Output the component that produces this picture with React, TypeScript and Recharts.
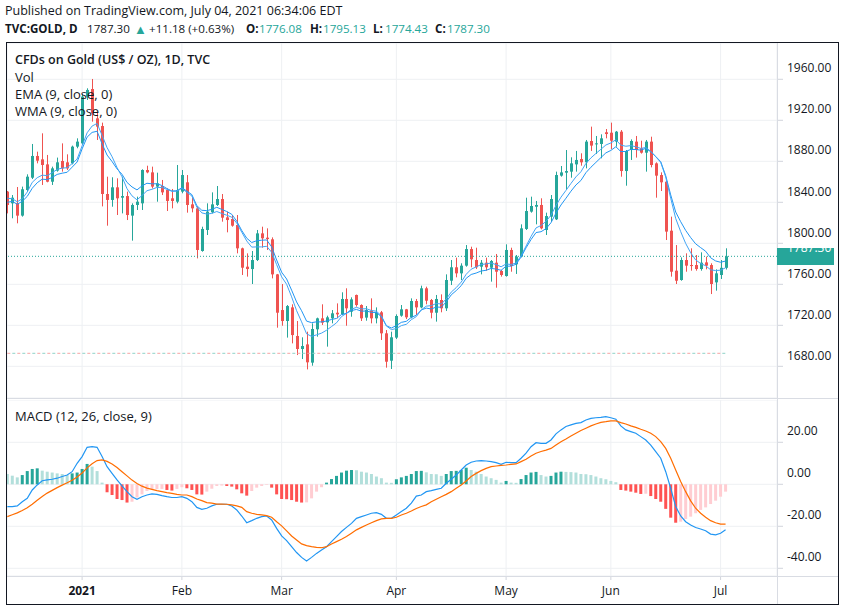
import React from 'react';
import { ComposedChart, Bar, Line, XAxis, YAxis, CartesianGrid, ReferenceLine, Cell } from 'recharts';

const FONT = '"Open Sans", "Noto Sans", sans-serif';
const UP = '#26a69a';
const DOWN = '#ef5350';
const TEXT = '#131722';
const GRID = '#eef0f3';
const SEP = '#d9dce3';

// ---- daily candles, Dec 2020 .. Jul 2 2021 (index 15 = Jan 4) ----
const open = [
  1850.4, 1839.0, 1839.0, 1827.0, 1852.0, 1864.0, 1885.2, 1881.9, 1877.0, 1860.1,
  1870.9, 1880.3, 1879.0, 1878.0, 1894.3, 1897.5, 1943.1, 1950.5, 1921.9, 1914.4,
  1848.1, 1842.3, 1854.6, 1844.5, 1846.1, 1827.0, 1837.4, 1839.0, 1871.5, 1869.2,
  1855.3, 1855.9, 1852.0, 1843.9, 1840.6, 1850.4, 1859.5, 1838.0, 1834.1, 1792.5,
  1813.0, 1830.2, 1837.4, 1843.2, 1825.3, 1823.7, 1817.9, 1795.1, 1777.2, 1774.9,
  1783.7, 1809.7, 1805.5, 1803.9, 1769.7, 1734.9, 1724.2, 1737.5, 1709.6, 1696.9,
  1701.4, 1683.6, 1716.1, 1726.8, 1722.9, 1726.8, 1732.3, 1730.7, 1745.7, 1733.3,
  1749.6, 1739.8, 1727.5, 1734.3, 1726.8, 1732.7, 1712.2, 1685.5, 1708.0, 1729.4,
  1735.6, 1727.8, 1743.7, 1737.5, 1756.1, 1744.7, 1732.3, 1744.7, 1736.6, 1763.5,
  1776.6, 1770.7, 1778.2, 1794.4, 1783.7, 1777.2, 1781.1, 1776.2, 1781.1, 1773.0,
  1768.1, 1793.5, 1779.5, 1787.0, 1814.0, 1830.9, 1835.7, 1837.4, 1813.0, 1826.0,
  1823.4, 1866.0, 1868.9, 1869.9, 1877.0, 1882.2, 1879.0, 1899.8, 1896.6, 1896.9,
  1908.3, 1907.9, 1899.2, 1908.9, 1870.5, 1891.0, 1899.2, 1892.7, 1888.4, 1899.2,
  1878.0, 1866.6, 1860.1, 1812.3, 1773.3, 1764.2, 1783.7, 1778.8, 1778.8, 1774.9,
  1781.4, 1778.8, 1761.9, 1769.1, 1776.08,
];
const high = [
  1851.0, 1847.1, 1854.9, 1855.3, 1867.3, 1896.9, 1889.4, 1907.3, 1886.2, 1874.8,
  1883.6, 1897.5, 1886.8, 1895.3, 1902.4, 1945.3, 1951.2, 1960.3, 1928.4, 1917.7,
  1865.0, 1864.4, 1863.4, 1865.0, 1850.4, 1839.0, 1845.5, 1872.2, 1875.7, 1874.8,
  1868.9, 1861.8, 1853.6, 1853.0, 1876.4, 1871.5, 1866.6, 1845.5, 1835.7, 1816.2,
  1839.0, 1849.7, 1855.9, 1848.1, 1830.9, 1827.6, 1827.6, 1795.8, 1790.2, 1792.5,
  1813.0, 1816.2, 1814.6, 1805.8, 1770.1, 1760.3, 1739.8, 1740.5, 1724.2, 1708.3,
  1713.8, 1721.9, 1727.5, 1740.5, 1729.4, 1734.9, 1741.4, 1752.2, 1756.1, 1747.3,
  1750.0, 1740.5, 1738.8, 1746.3, 1737.5, 1734.0, 1715.4, 1713.8, 1730.7, 1739.8,
  1736.0, 1746.3, 1745.7, 1758.7, 1757.7, 1745.7, 1749.6, 1750.2, 1769.7, 1783.7,
  1786.0, 1780.5, 1798.3, 1796.7, 1795.7, 1783.7, 1786.0, 1783.7, 1789.6, 1774.0,
  1799.0, 1795.7, 1788.6, 1818.5, 1844.5, 1845.5, 1841.3, 1843.9, 1829.9, 1847.1,
  1869.9, 1875.4, 1891.0, 1883.9, 1890.1, 1887.8, 1900.8, 1913.8, 1904.7, 1906.3,
  1911.5, 1917.7, 1909.6, 1910.5, 1891.0, 1901.4, 1904.7, 1900.1, 1900.8, 1904.0,
  1879.0, 1869.2, 1860.8, 1826.0, 1798.3, 1786.3, 1790.2, 1795.1, 1788.6, 1791.2,
  1787.0, 1780.5, 1774.6, 1783.7, 1795.13,
];
const low = [
  1829.2, 1824.4, 1819.5, 1826.0, 1850.4, 1862.7, 1878.0, 1856.9, 1859.5, 1856.9,
  1869.9, 1869.9, 1871.5, 1877.0, 1892.7, 1895.9, 1939.8, 1918.7, 1900.8, 1836.0,
  1817.2, 1835.7, 1827.6, 1829.2, 1822.7, 1802.6, 1832.5, 1832.5, 1868.3, 1853.6,
  1840.6, 1847.1, 1831.5, 1834.1, 1839.0, 1848.8, 1829.9, 1830.2, 1785.3, 1791.8,
  1808.1, 1829.2, 1836.4, 1821.1, 1810.7, 1816.2, 1790.2, 1769.1, 1767.5, 1760.3,
  1782.7, 1795.7, 1793.5, 1765.8, 1717.7, 1719.6, 1708.0, 1702.4, 1691.0, 1687.1,
  1677.0, 1680.6, 1708.9, 1720.3, 1699.2, 1721.9, 1726.8, 1730.1, 1719.6, 1728.4,
  1738.2, 1724.2, 1724.5, 1721.9, 1721.9, 1705.7, 1678.7, 1677.4, 1706.6, 1728.4,
  1726.1, 1726.8, 1730.1, 1736.6, 1740.5, 1726.8, 1723.6, 1732.7, 1734.0, 1759.3,
  1766.8, 1764.2, 1777.2, 1776.6, 1774.9, 1769.7, 1773.3, 1762.6, 1756.7, 1767.5,
  1767.5, 1772.3, 1770.1, 1786.3, 1813.0, 1829.9, 1818.5, 1813.6, 1808.1, 1821.1,
  1822.7, 1865.0, 1852.0, 1864.0, 1869.9, 1875.7, 1873.1, 1890.1, 1887.1, 1882.9,
  1902.4, 1892.0, 1894.3, 1865.0, 1856.2, 1881.3, 1883.6, 1887.5, 1869.9, 1874.1,
  1844.5, 1851.0, 1803.2, 1767.5, 1760.3, 1763.5, 1772.3, 1773.3, 1773.3, 1773.3,
  1774.6, 1750.5, 1753.8, 1765.2, 1774.43,
];
const close = [
  1837.4, 1844.5, 1827.0, 1852.7, 1865.0, 1885.2, 1880.6, 1876.4, 1860.1, 1873.1,
  1879.0, 1873.1, 1873.1, 1894.3, 1899.2, 1943.1, 1949.6, 1926.8, 1913.8, 1848.1,
  1842.3, 1854.6, 1843.9, 1846.1, 1827.6, 1837.4, 1840.6, 1871.5, 1869.2, 1855.3,
  1858.5, 1849.7, 1841.3, 1841.3, 1852.0, 1866.6, 1837.4, 1834.1, 1793.5, 1814.0,
  1830.9, 1838.0, 1843.2, 1825.0, 1822.7, 1817.2, 1795.1, 1776.2, 1774.9, 1783.7,
  1809.7, 1804.9, 1804.2, 1769.7, 1732.3, 1724.2, 1738.8, 1710.5, 1696.9, 1699.8,
  1683.9, 1716.4, 1726.8, 1722.6, 1727.8, 1731.7, 1730.7, 1745.7, 1736.6, 1745.3,
  1739.8, 1726.8, 1734.9, 1726.8, 1732.3, 1712.2, 1684.5, 1708.3, 1729.1, 1735.6,
  1727.8, 1743.7, 1737.5, 1756.1, 1744.0, 1732.3, 1745.7, 1736.6, 1764.2, 1776.6,
  1770.7, 1778.2, 1794.4, 1784.4, 1776.6, 1781.1, 1776.6, 1782.7, 1772.3, 1769.1,
  1793.5, 1777.9, 1787.0, 1814.6, 1831.5, 1836.4, 1837.4, 1814.6, 1826.6, 1843.2,
  1866.6, 1869.2, 1870.5, 1878.0, 1881.3, 1879.0, 1899.2, 1895.3, 1897.5, 1902.4,
  1906.6, 1900.1, 1908.9, 1870.5, 1890.1, 1899.8, 1891.0, 1888.4, 1899.2, 1876.4,
  1866.0, 1859.5, 1811.4, 1772.3, 1763.5, 1783.7, 1778.2, 1777.9, 1774.9, 1781.1,
  1778.2, 1760.3, 1770.7, 1776.1, 1787.3,
];
const ema9 = [
  1840.0, 1840.9, 1838.1, 1841.0, 1845.8, 1853.7, 1859.1, 1862.6, 1862.1, 1864.3,
  1867.2, 1868.4, 1869.3, 1874.3, 1879.3, 1892.1, 1903.6, 1908.2, 1909.3, 1897.1,
  1886.1, 1879.8, 1872.6, 1867.3, 1859.4, 1855.0, 1852.1, 1856.0, 1858.6, 1858.0,
  1858.1, 1856.4, 1853.4, 1851.0, 1851.2, 1854.3, 1850.9, 1847.5, 1836.7, 1832.2,
  1831.9, 1833.1, 1835.1, 1833.1, 1831.0, 1828.3, 1821.6, 1812.5, 1805.0, 1800.8,
  1802.5, 1803.0, 1803.3, 1796.5, 1783.7, 1771.8, 1765.2, 1754.3, 1742.8, 1734.2,
  1724.1, 1722.6, 1723.4, 1723.3, 1724.2, 1725.7, 1726.7, 1730.5, 1731.7, 1734.4,
  1735.5, 1733.8, 1734.0, 1732.6, 1732.5, 1728.4, 1719.6, 1717.4, 1719.7, 1722.9,
  1723.9, 1727.8, 1729.8, 1735.0, 1736.8, 1735.9, 1737.9, 1737.6, 1742.9, 1749.7,
  1753.9, 1758.7, 1765.9, 1769.6, 1771.0, 1773.0, 1773.7, 1775.5, 1774.9, 1773.7,
  1777.7, 1777.7, 1779.6, 1786.6, 1795.6, 1803.7, 1810.5, 1811.3, 1814.3, 1820.1,
  1829.4, 1837.4, 1844.0, 1850.8, 1856.9, 1861.3, 1868.9, 1874.2, 1878.9, 1883.6,
  1888.2, 1890.6, 1894.2, 1889.5, 1889.6, 1891.6, 1891.5, 1890.9, 1892.6, 1889.3,
  1884.7, 1879.6, 1866.0, 1847.2, 1830.5, 1821.1, 1812.6, 1805.6, 1799.5, 1795.8,
  1792.3, 1785.9, 1782.8, 1781.5, 1782.7,
];
const wma9 = [
  1843.9, 1843.5, 1840.5, 1843.5, 1850.0, 1859.5, 1864.0, 1866.5, 1866.0, 1868.9,
  1872.1, 1873.4, 1873.7, 1877.8, 1882.2, 1895.1, 1907.8, 1914.4, 1916.9, 1905.4,
  1893.4, 1884.5, 1873.9, 1864.9, 1853.3, 1846.3, 1842.4, 1846.6, 1851.3, 1852.7,
  1854.5, 1854.5, 1852.6, 1850.8, 1850.9, 1853.6, 1849.8, 1846.2, 1835.2, 1829.7,
  1828.5, 1829.2, 1831.0, 1829.1, 1827.4, 1825.5, 1819.7, 1810.9, 1802.3, 1796.3,
  1796.5, 1796.5, 1797.1, 1791.3, 1779.2, 1767.3, 1760.0, 1747.8, 1734.3, 1723.4,
  1711.7, 1709.2, 1710.7, 1712.4, 1715.2, 1718.8, 1722.4, 1728.5, 1731.7, 1735.8,
  1737.5, 1736.0, 1736.2, 1734.4, 1733.8, 1729.2, 1719.4, 1715.8, 1716.9, 1719.7,
  1721.0, 1725.5, 1728.5, 1735.1, 1738.7, 1739.2, 1741.3, 1740.8, 1745.7, 1752.4,
  1756.8, 1762.2, 1769.8, 1774.7, 1777.0, 1779.3, 1779.9, 1780.8, 1779.2, 1777.1,
  1779.9, 1779.3, 1780.8, 1787.8, 1797.3, 1806.7, 1815.0, 1817.4, 1821.4, 1827.4,
  1836.9, 1845.0, 1851.6, 1858.4, 1864.8, 1869.8, 1877.9, 1883.3, 1887.6, 1891.7,
  1895.9, 1897.9, 1901.0, 1895.8, 1894.7, 1895.3, 1894.2, 1892.6, 1893.4, 1889.7,
  1884.5, 1878.9, 1864.7, 1844.0, 1824.2, 1811.4, 1799.9, 1790.8, 1783.8, 1780.3,
  1778.1, 1774.2, 1773.4, 1773.8, 1776.1,
];
const macdLine = [
  -10.6, -10.6, -10.3, -8.3, -6.7, -2.7, -0.3, 1.7, 2.1, 2.4,
  2.9, 3.7, 4.4, 6.0, 10.0, 13.2, 17.6, 17.9, 17.6, 13.2,
  8.4, 5.2, 2.1, -0.8, -3.5, -5.9, -7.1, -5.9, -5.1, -4.6,
  -4.8, -5.4, -5.9, -6.3, -6.3, -5.9, -6.7, -8.3, -11.0, -11.9,
  -11.4, -10.3, -9.5, -9.5, -9.5, -10.3, -12.2, -15.1, -18.3, -17.3,
  -16.2, -15.4, -15.1, -17.0, -21.0, -24.6, -26.8, -29.7, -32.5, -34.8,
  -36.5, -34.8, -32.9, -31.3, -29.7, -27.3, -24.9, -22.5, -20.5, -18.6,
  -16.2, -15.4, -14.6, -13.8, -13.5, -14.3, -16.2, -16.2, -14.6, -13.0,
  -11.4, -9.0, -5.6, -5.1, -3.5, -3.0, -2.4, -1.9, 0.5, 2.4,
  4.4, 6.8, 9.2, 10.5, 11.1, 11.3, 11.1, 10.8, 10.3, 9.5,
  10.5, 10.3, 10.3, 12.4, 14.8, 17.9, 19.8, 19.5, 19.5, 21.1,
  24.0, 25.9, 27.5, 28.3, 29.0, 29.4, 30.6, 31.4, 31.7, 31.9,
  32.2, 31.7, 31.0, 27.8, 25.9, 25.1, 24.3, 22.7, 21.1, 18.7,
  15.6, 12.4, 6.0, -1.9, -10.6, -15.1, -17.8, -19.4, -20.6, -21.3,
  -22.1, -23.7, -24.1, -23.3, -21.7,
];
const signalLine = [
  -15.4, -14.5, -13.6, -12.5, -11.2, -9.5, -7.6, -5.8, -4.2, -2.9,
  -1.6, -0.4, 0.7, 1.9, 3.5, 5.4, 7.8, 9.8, 11.3, 11.6,
  10.9, 9.7, 8.0, 6.0, 4.0, 2.0, 0.4, -0.9, -1.8, -2.4,
  -3.0, -3.5, -4.0, -4.3, -4.8, -5.1, -5.1, -5.9, -7.0, -7.8,
  -8.7, -9.0, -9.4, -9.4, -9.5, -9.8, -10.3, -11.0, -13.0, -13.8,
  -14.3, -14.6, -14.9, -15.7, -17.8, -19.8, -22.2, -24.6, -26.5, -28.4,
  -29.2, -29.7, -30.0, -30.2, -29.7, -28.4, -27.3, -26.2, -24.9, -23.3,
  -21.7, -20.5, -19.4, -18.3, -17.3, -16.5, -16.2, -16.2, -15.7, -14.6,
  -13.8, -12.7, -11.5, -10.6, -9.8, -8.3, -7.1, -5.9, -4.8, -3.5,
  -1.9, -0.3, 1.6, 3.7, 5.2, 6.5, 7.6, 8.4, 8.7, 9.0,
  9.2, 9.5, 9.7, 10.8, 11.9, 13.5, 14.8, 15.6, 16.3, 17.1,
  18.7, 20.3, 21.6, 23.0, 24.3, 25.6, 26.7, 27.8, 28.7, 29.5,
  29.8, 30.2, 30.2, 29.4, 28.7, 27.8, 27.1, 26.2, 25.4, 24.3,
  22.7, 20.3, 17.1, 12.4, 6.8, 1.3, -3.5, -7.9, -11.4, -13.8,
  -15.7, -17.3, -18.3, -19.0, -19.0,
];
const histogram = [
  4.9, 4.1, 3.3, 4.4, 6.3, 7.3, 7.6, 6.5, 6.0, 5.6,
  5.2, 4.9, 4.4, 5.2, 5.6, 7.3, 9.7, 8.4, 6.3, 0.8,
  -3.8, -5.1, -7.0, -7.5, -8.7, -8.3, -6.3, -4.8, -3.2, -2.4,
  -2.3, -2.2, -2.7, -3.0, -2.2, -1.4, -1.9, -2.7, -4.8, -4.9,
  -3.5, -2.1, -0.8, -0.6, -0.8, -1.1, -2.4, -4.3, -5.4, -3.2,
  -1.6, -0.8, -0.3, -1.6, -4.8, -7.0, -7.1, -7.5, -8.3, -8.7,
  -8.6, -6.7, -3.5, -1.4, 0.8, 2.5, 4.0, 5.6, 6.5, 6.8,
  6.7, 6.0, 5.6, 4.9, 3.7, 2.9, 0.8, 0.7, 2.4, 3.3,
  4.0, 4.9, 6.3, 6.4, 5.7, 4.9, 4.8, 4.0, 4.9, 6.3,
  6.4, 6.8, 7.9, 6.8, 6.0, 4.9, 3.7, 2.9, 2.1, 0.8,
  1.6, 0.8, 0.7, 2.5, 4.4, 5.6, 5.9, 4.4, 3.7, 4.0,
  5.6, 6.0, 5.9, 5.8, 5.6, 4.9, 4.8, 4.4, 3.7, 2.9,
  2.4, 1.6, 1.0, -2.7, -3.0, -3.5, -4.0, -4.6, -4.5, -5.6,
  -7.0, -8.3, -11.7, -15.9, -18.3, -17.8, -16.5, -15.4, -13.8, -12.2,
  -11.0, -9.4, -7.8, -5.9, -3.5,
];

const monthTicks = [15, 35, 55, 78, 100, 121, 143];
const monthLabels = ['2021', 'Feb', 'Mar', 'Apr', 'May', 'Jun', 'Jul'];
const priceTicks = [1680, 1720, 1760, 1800, 1840, 1880, 1920, 1960];
const macdTicks = [-40, -20, 0, 20];
const lastPrice = 1787.3;
const markerLevel = 1692.7;

const data = close.map((c, i) => ({
  i,
  open: open[i],
  high: high[i],
  low: low[i],
  close: c,
  range: [low[i], high[i]],
  ema: ema9[i],
  wma: wma9[i],
  macd: macdLine[i],
  signal: signalLine[i],
  hist: histogram[i],
}));

const histColor = (i: number) => {
  const v = histogram[i];
  const p = i > 0 ? histogram[i - 1] : v;
  if (v >= 0) return i > 0 && v > p ? '#26a69a' : '#b2dfdb';
  return i > 0 && v < p ? '#ff5252' : '#ffcdd2';
};

const xDomain: [number, number] = [-0.06, 154.31];
const priceDomain: [number, number] = [1649.1, 1995.4];
const macdDomain: [number, number] = [-43.67, 40.14];

const Candle = (props: any) => {
  const { x, y, width, height, payload } = props;
  if (!payload || x == null) return null;
  const { open: o, close: c, high: h, low: l } = payload;
  const color = c >= o ? UP : DOWN;
  const span = h - l || 1;
  const py = (v: number) => y + ((h - v) / span) * height;
  const top = py(Math.max(o, c));
  const bot = py(Math.min(o, c));
  const cx = Math.round(x + width / 2);
  return (
    <g>
      <line x1={cx + 0.5} x2={cx + 0.5} y1={y} y2={y + height} stroke={color} strokeWidth={1} />
      <rect x={cx - 1} y={top} width={3} height={Math.max(1, bot - top)} fill={color} />
    </g>
  );
};

const PriceTick = (props: any) => {
  const { x, y, payload } = props;
  return (
    <text x={x + 2} y={y - 11} dy="0.35em" textAnchor="start" fontSize={12} fill={TEXT} fontFamily={FONT}>
      {Number(payload.value).toFixed(2)}
    </text>
  );
};

const TimeTick = (props: any) => {
  const { x, y, payload } = props;
  const idx = monthTicks.indexOf(payload.value);
  const label = monthLabels[idx] ?? '';
  return (
    <text x={x} y={y + 13} textAnchor="middle" fontSize={12} fill={TEXT} fontFamily={FONT} fontWeight={idx === 0 ? 700 : 400}>
      {label}
    </text>
  );
};

const txt: React.CSSProperties = { position: 'absolute', fontSize: 12, lineHeight: '16px', color: TEXT, whiteSpace: 'nowrap' };
const hdr: React.CSSProperties = { ...txt, top: 21, fontSize: 11.6 };

export default function App() {
  return (
    <div style={{ position: 'absolute', left: 0, top: 0, width: 845, height: 611, background: '#fff', fontFamily: FONT, overflow: 'hidden' }}>
      <div style={{ ...txt, left: 5, top: 3, fontSize: 12.5 }}>Published on TradingView.com, July 04, 2021 06:34:06 EDT</div>
      <div style={{ ...hdr, left: 5, fontWeight: 700 }}>TVC:GOLD, D</div>
      <div style={{ ...hdr, left: 87 }}>1787.30</div>
      <div style={{ ...hdr, left: 134, color: UP, fontSize: 13 }}>▲</div>
      <div style={{ ...hdr, left: 149 }}>+11.18 (+0.63%)</div>
      <div style={{ ...hdr, left: 246, fontWeight: 700 }}>O:</div>
      <div style={{ ...hdr, left: 259, color: UP }}>1776.08</div>
      <div style={{ ...hdr, left: 310, fontWeight: 700 }}>H:</div>
      <div style={{ ...hdr, left: 323, color: UP }}>1795.13</div>
      <div style={{ ...hdr, left: 373, fontWeight: 700 }}>L:</div>
      <div style={{ ...hdr, left: 385, color: UP }}>1774.43</div>
      <div style={{ ...hdr, left: 435, fontWeight: 700 }}>C:</div>
      <div style={{ ...hdr, left: 447, color: UP }}>1787.30</div>

      <div style={{ position: 'absolute', left: 7, top: 43 }}>
        <ComposedChart width={831} height={355} data={data} margin={{ top: 0, right: 0, bottom: 0, left: 0 }}>
          <CartesianGrid stroke={GRID} />
          <XAxis dataKey="i" type="number" domain={xDomain} allowDataOverflow ticks={monthTicks} hide />
          <YAxis
            orientation="right"
            width={61}
            domain={priceDomain}
            allowDataOverflow
            ticks={priceTicks}
            interval={0}
            tick={PriceTick}
            tickSize={6}
            tickLine={{ stroke: '#d1d4dc' }}
            axisLine={false}
          />
          <ReferenceLine segment={[{ x: 0, y: markerLevel }, { x: 144, y: markerLevel }]} stroke="#f5a3a3" strokeDasharray="3 7" />
          <ReferenceLine segment={[{ x: 0, y: markerLevel }, { x: 144, y: markerLevel }]} stroke="#8fd3c9" strokeDasharray="3 7" strokeDashoffset={5} />
          <ReferenceLine y={lastPrice} stroke={UP} strokeDasharray="1 2" />
          <Bar dataKey="range" shape={Candle} barSize={3} isAnimationActive={false} />
          <Line dataKey="ema" stroke="#2196f3" strokeWidth={1} dot={false} isAnimationActive={false} type="linear" />
          <Line dataKey="wma" stroke="#42a5f5" strokeWidth={1} dot={false} isAnimationActive={false} type="linear" />
        </ComposedChart>
      </div>

      <div style={{ position: 'absolute', left: 7, top: 400 }}>
        <ComposedChart width={831} height={204} data={data} margin={{ top: 0, right: 0, bottom: 0, left: 0 }}>
          <CartesianGrid stroke={GRID} />
          <XAxis
            dataKey="i"
            type="number"
            domain={xDomain}
            allowDataOverflow
            ticks={monthTicks}
            interval={0}
            height={28}
            tick={TimeTick}
            tickSize={4}
            tickLine={{ stroke: '#d1d4dc' }}
            axisLine={false}
          />
          <YAxis
            orientation="right"
            width={61}
            domain={macdDomain}
            allowDataOverflow
            ticks={macdTicks}
            interval={0}
            tick={PriceTick}
            tickSize={6}
            tickLine={{ stroke: '#d1d4dc' }}
            axisLine={false}
          />
          <Bar dataKey="hist" barSize={3} isAnimationActive={false}>
            {data.map((d, i) => (
              <Cell key={d.i} fill={histColor(i)} />
            ))}
          </Bar>
          <Line dataKey="macd" stroke="#2196f3" strokeWidth={1.2} dot={false} isAnimationActive={false} type="linear" />
          <Line dataKey="signal" stroke="#ff6d00" strokeWidth={1.2} dot={false} isAnimationActive={false} type="linear" />
        </ComposedChart>
      </div>

      {/* pane separators and frame */}
      <div style={{ position: 'absolute', left: 7, top: 398, width: 831, height: 1, background: SEP }} />
      <div style={{ position: 'absolute', left: 7, top: 576, width: 831, height: 1, background: SEP }} />
      <div style={{ position: 'absolute', left: 777, top: 43, width: 1, height: 561, background: SEP }} />
      <div style={{ position: 'absolute', left: 777, top: 248, width: 57, height: 17, background: UP, overflow: 'hidden' }}>
        <div style={{ position: 'absolute', left: 10, top: -6, fontSize: 12, lineHeight: '12px', color: '#fff' }}>1787.30</div>
      </div>

      <div style={{ ...txt, left: 15, top: 52, fontSize: 12.5, fontWeight: 600 }}>CFDs on Gold (US$ / OZ), 1D, TVC</div>
      <div style={{ ...txt, left: 15, top: 69, fontSize: 13 }}>Vol</div>
      <div style={{ ...txt, left: 15, top: 86, fontSize: 13 }}>EMA (9, close, 0)</div>
      <div style={{ ...txt, left: 15, top: 103, fontSize: 13 }}>WMA (9, close, 0)</div>
      <div style={{ ...txt, left: 15, top: 408, fontSize: 13 }}>MACD (12, 26, close, 9)</div>

      <div style={{ position: 'absolute', left: 6, top: 42, width: 831, height: 561, border: '1px solid #131722' }} />
    </div>
  );
}
